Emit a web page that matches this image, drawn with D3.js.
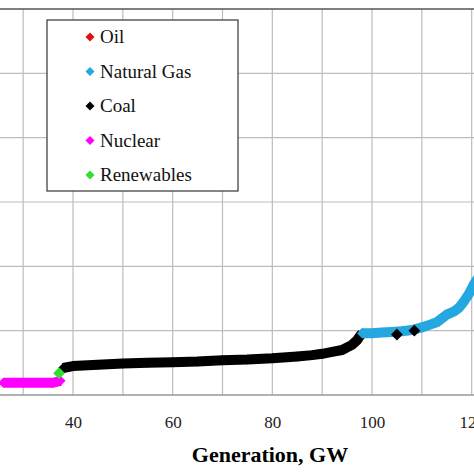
<!DOCTYPE html>
<html><head><meta charset="utf-8">
<script src="https://cdn.jsdelivr.net/npm/d3@7"></script>
<style>body{margin:0;background:#fff}</style>
</head><body><div id="chart"></div>
<script>
// dispatch curve (GW vs cost)
const nuclearX = [26, 28, 30, 32, 34, 36, 37.5];
const nuclearY = [1.9, 1.9, 1.9, 1.9, 1.9, 1.9, 2.2];
const renewX = [37.2];
const renewY = [3.4];
const coalX = [38, 40, 45, 50, 55, 60, 65, 70, 75, 80, 85, 88, 90, 92, 94, 95, 96, 97, 97.5, 98];
const coalY = [4.2, 4.5, 4.7, 4.9, 5.0, 5.1, 5.2, 5.4, 5.5, 5.7, 6.0, 6.2, 6.4, 6.7, 7.0, 7.4, 7.8, 8.5, 9.1, 9.6];
const gasX = [98, 100, 102, 104, 106, 108, 110, 111.5, 113, 114, 115, 116.5, 117.5, 118.5, 119.5, 120.5, 122];
const gasY = [9.6, 9.6, 9.7, 9.8, 9.9, 10.1, 10.5, 10.9, 11.3, 11.9, 12.5, 13.0, 13.6, 14.6, 15.8, 17.3, 19.0];
const coalMarginX = [105, 108.5];
const coalMarginY = [9.4, 10.0];
const xTicks = [40, 60, 80, 100, 120];
const legendNames = ["Oil", "Natural Gas", "Coal", "Nuclear", "Renewables"];
const legendColors = ["#e01010", "#25a8e0", "#000000", "#ff00ff", "#33dd33"];

const W = 474, H = 474;
const svg = d3.select("#chart").append("svg").attr("width", W).attr("height", H);
const x = d3.scaleLinear().domain([40, 100]).range([73, 372]);
const y = d3.scaleLinear().domain([0, 60]).range([395, 9]);

// grid
svg.append("g").selectAll("line").data(d3.range(20, 131, 10)).join("line")
  .attr("x1", d => x(d)).attr("x2", d => x(d)).attr("y1", y(60)).attr("y2", y(0))
  .attr("stroke", "#bdbdbd").attr("stroke-width", 1.2);
svg.append("g").selectAll("line").data(d3.range(10, 61, 10)).join("line")
  .attr("x1", 0).attr("x2", W).attr("y1", d => y(d)).attr("y2", d => y(d))
  .attr("stroke", d => d === 60 ? "#555" : "#bdbdbd").attr("stroke-width", d => d === 60 ? 1.5 : 1.2);
svg.append("line").attr("x1", 0).attr("x2", W).attr("y1", y(0)).attr("y2", y(0))
  .attr("stroke", "#999").attr("stroke-width", 1.5);

const line = d3.line().x(d => x(d[0])).y(d => y(d[1]));
const diamond = (s) => d3.symbol().type(d3.symbolSquare).size(s);
function series(xs, ys, color) {
  const pts = xs.map((v, i) => [v, ys[i]]);
  svg.append("path").datum(pts).attr("d", line).attr("fill", "none")
    .attr("stroke", color).attr("stroke-width", 10).attr("stroke-linejoin", "round");
  svg.append("g").selectAll("path").data(pts).join("path")
    .attr("transform", d => `translate(${x(d[0])},${y(d[1])}) rotate(45)`)
    .attr("d", diamond(50)).attr("fill", color);
}
series(nuclearX, nuclearY, "#ff00ff");
series(coalX, coalY, "#000");
series(gasX, gasY, "#25a8e0");
svg.append("g").selectAll("path").data(coalMarginX).join("path")
  .attr("transform", (d, i) => `translate(${x(d)},${y(coalMarginY[i])}) rotate(45)`)
  .attr("d", diamond(70)).attr("fill", "#000");
svg.append("g").selectAll("path").data(renewX).join("path")
  .attr("transform", (d, i) => `translate(${x(d)},${y(renewY[i])}) rotate(45)`)
  .attr("d", diamond(70)).attr("fill", "#33dd33");

// x axis labels
const xa = svg.append("g").attr("transform", `translate(0,${y(0)})`)
  .call(d3.axisBottom(x).tickValues(xTicks).tickSize(0).tickPadding(21));
xa.select(".domain").remove();
xa.selectAll("text").attr("font-family", "Liberation Serif").attr("font-size", 17).attr("fill", "#222");
svg.append("text").attr("x", 270).attr("y", 462).attr("text-anchor", "middle")
  .attr("font-family", "Liberation Serif").attr("font-weight", "bold").attr("font-size", 22)
  .text("Generation, GW");

// legend
const lg = svg.append("g");
lg.append("rect").attr("x", 47).attr("y", 20).attr("width", 191).attr("height", 171)
  .attr("fill", "#fff").attr("stroke", "#444").attr("stroke-width", 1.3);
const it = lg.selectAll("g").data(legendNames).join("g")
  .attr("transform", (d, i) => `translate(90,${37 + i * 34.5})`);
it.append("path").attr("d", diamond(40)).attr("transform", "rotate(45)")
  .attr("fill", (d, i) => legendColors[i]);
it.append("text").attr("x", 10).attr("y", 6).attr("font-family", "Liberation Serif")
  .attr("font-size", 19).attr("fill", "#111").text(d => d);
</script></body></html>
